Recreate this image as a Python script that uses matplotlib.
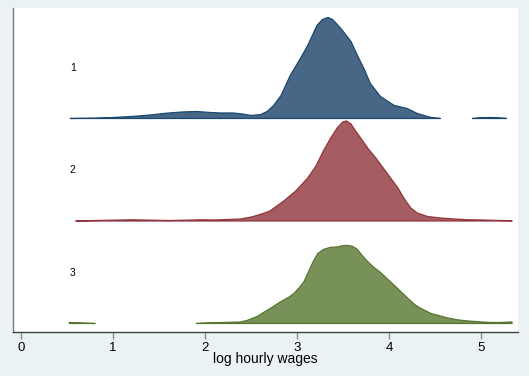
import numpy as np
import matplotlib
matplotlib.use("Agg")
import matplotlib.pyplot as plt

plt.rcParams['font.family'] = ['Liberation Sans', 'DejaVu Sans']

groups = ["1", "2", "3"]

x1 = [0.53, 0.80, 1.00, 1.20, 1.40, 1.60, 1.75, 1.90, 2.05, 2.15, 2.30, 2.40, 2.50, 2.60,
      2.67, 2.74, 2.82, 2.92, 3.03, 3.11, 3.21, 3.27, 3.33, 3.38, 3.47, 3.58, 3.65, 3.72,
      3.79, 3.90, 4.05, 4.19, 4.30, 4.45, 4.55, 4.90, 5.00, 5.10, 5.20, 5.27]
h1 = [0.0, 0.3, 1.0, 2.0, 3.5, 5.5, 6.5, 7.0, 6.0, 5.5, 5.5, 4.5, 3.0, 4.0,
      7.0, 13.0, 23.0, 43.0, 60.0, 73.0, 93.0, 99.0, 101.0, 99.0, 90.0, 77.0, 63.0, 50.0,
      35.0, 22.0, 13.0, 10.0, 5.0, 1.0, 0.0, 0.0, 0.8, 1.0, 0.5, 0.0]

x2 = [0.59, 0.80, 1.00, 1.20, 1.40, 1.60, 1.80, 1.95, 2.10, 2.25, 2.38, 2.50, 2.60, 2.70,
      2.85, 2.98, 3.11, 3.20, 3.28, 3.36, 3.43, 3.49, 3.53, 3.58, 3.63, 3.70, 3.76, 3.85,
      3.93, 4.01, 4.09, 4.16, 4.23, 4.30, 4.41, 4.55, 4.70, 4.85, 5.00, 5.15, 5.33]
h2 = [0.0, 0.5, 0.8, 1.2, 0.8, 0.5, 0.8, 1.2, 1.0, 1.5, 2.0, 4.0, 6.7, 10.0,
      20.0, 30.0, 43.0, 55.0, 70.0, 83.0, 93.0, 99.0, 100.0, 97.0, 90.0, 81.0, 73.0, 63.0,
      53.0, 43.0, 33.0, 22.0, 13.0, 8.0, 4.5, 3.0, 2.0, 1.2, 1.0, 0.6, 0.3]

x3 = [0.52, 0.65, 0.80, 1.90, 2.00, 2.20, 2.38, 2.45, 2.56, 2.63, 2.72, 2.82, 2.90, 2.96,
      3.02, 3.07, 3.12, 3.17, 3.22, 3.28, 3.35, 3.43, 3.50, 3.55, 3.60, 3.65, 3.70, 3.76,
      3.83, 3.90, 3.97, 4.04, 4.12, 4.20, 4.27, 4.34, 4.45, 4.55, 4.63, 4.75, 4.85, 5.00,
      5.10, 5.20, 5.33]
h3 = [1.0, 0.5, 0.0, 0.0, 0.5, 1.0, 1.5, 3.0, 7.0, 11.0, 16.0, 22.0, 26.0, 30.0,
      36.0, 42.0, 52.0, 62.0, 70.0, 74.0, 76.0, 76.5, 78.0, 78.0, 77.0, 74.0, 68.0, 62.0,
      56.0, 51.0, 45.0, 39.0, 32.0, 25.0, 19.0, 15.0, 10.0, 7.5, 5.5, 3.5, 2.5, 1.5,
      1.0, 1.0, 1.5]

xticks = [0, 1, 2, 3, 4, 5]
xlabel = "log hourly wages"

fills = ["#486786", "#A65D62", "#779159"]
edges = ["#1A476F", "#90353B", "#55752F"]
SCALE = 1 / 102.5
offsets = [2, 1, 0]

fig = plt.figure(figsize=(5.29, 3.76), dpi=100)
fig.patch.set_facecolor("#EAF2F3")
ax = fig.add_axes([13 / 529, 1 - 332 / 376, (518 - 13) / 529, (332 - 8) / 376])
ax.set_facecolor("white")

for xs, hs, off, fc, ec, g in zip([x1, x2, x3], [h1, h2, h3], offsets, fills, edges, groups):
    xs = np.array(xs)
    hs = np.array(hs) * SCALE
    # split into segments where the density stays at zero (gaps in the ridge)
    start = 0
    segs = []
    for i in range(len(xs) - 1):
        if hs[i] == 0 and hs[i + 1] == 0:
            segs.append((start, i + 1))
            start = i + 1
    segs.append((start, len(xs)))
    for a, b in segs:
        if b - a < 2:
            continue
        ax.fill_between(xs[a:b], off, off + hs[a:b], facecolor=fc, edgecolor=ec,
                        linewidth=0.9)
    ax.text(0.53, off + 0.49, g, fontsize=7.5, color="black", ha="left", va="center")

ax.set_xlim(-0.087, 5.40)
ax.set_ylim(-0.088, 3.073)
ax.set_yticks([])
ax.set_xticks(xticks)
ax.set_xticklabels([str(t) for t in xticks], fontsize=9.5)
ax.tick_params(axis="x", direction="out", length=5, width=1, color="#8C8C8C", pad=2)
ax.set_xlabel(xlabel, fontsize=10, labelpad=-1)
for s in ["top", "right"]:
    ax.spines[s].set_visible(False)
ax.spines["left"].set_color("#7A7A7A")
ax.spines["bottom"].set_color("#404040")
ax.spines["left"].set_linewidth(1.0)
ax.spines["bottom"].set_linewidth(1.0)

fig.savefig("out.png", dpi=100, facecolor=fig.get_facecolor())
